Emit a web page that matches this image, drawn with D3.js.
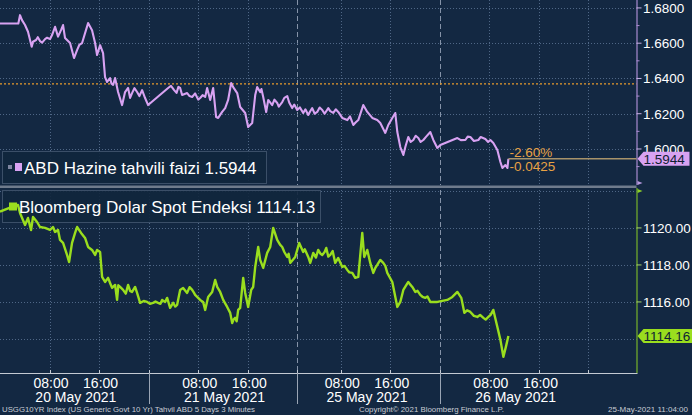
<!DOCTYPE html>
<html><head><meta charset="utf-8">
<script src="https://cdn.jsdelivr.net/npm/d3@7/dist/d3.min.js"></script>
<style>
body{margin:0;background:#132842;}
svg{display:block;font-family:"Liberation Sans",Arial,sans-serif;}
</style>
</head><body>
<svg id="chart" width="692" height="415"></svg>
<script>
// ---- DATA (time = trading hours since 20 May 00:00, value) ----
const yieldSeries = [
[0,1.6712],[2.96,1.6712],[3.23,1.6759],[3.55,1.6731],[4.04,1.6703],[4.52,1.6665],[5.12,1.6580],[5.33,1.6608],
[5.82,1.6618],[6.1,1.6634],[6.46,1.6612],[6.8,1.6603],[7.27,1.6623],[7.6,1.6631],[8.08,1.6623],[8.40,1.6646],[8.89,1.6693],[9.37,1.6637],[9.85,1.6674],
[10.18,1.6703],[10.50,1.6629],[11.31,1.6601],[11.95,1.6516],[12.44,1.6561],[12.8,1.6590],[13.25,1.6601],[14.22,1.6714],[14.86,1.6674],
[15.35,1.6601],[15.67,1.6533],[16.16,1.6589],[16.64,1.6544],[16.96,1.6408],[17.29,1.6380],[17.77,1.6402],[18.0,1.6370],[18.26,1.6363],
[18.58,1.6402],[19.06,1.6323],[19.71,1.6249],[20.19,1.6323],[20.68,1.6346],[21.0,1.6290],[21.32,1.6317],[21.7,1.6345],[22.13,1.6323],[22.5,1.6300],[22.94,1.6334],
[23.42,1.6289],[23.91,1.6249],[27.14,1.6346],[27.6,1.6358],[28.11,1.6334],[28.5,1.6318],[28.8,1.6352],[29.08,1.6346],[29.40,1.6306],[30.21,1.6317],[30.6,1.6300],[31.02,1.6295],
[31.5,1.6315],[32.0,1.6280],[32.31,1.6289],[32.7,1.6305],[33.12,1.6295],[33.44,1.6346],[33.93,1.6278],[34.41,1.6346],[34.89,1.6181],[35.22,1.6176],[35.86,1.6210],
[36.35,1.6232],[36.83,1.6278],[37.32,1.6374],[37.64,1.6351],[38.29,1.6317],[38.77,1.6238],[39.58,1.6204],[40.06,1.6125],
[40.71,1.6147],[41.20,1.6306],[41.52,1.6351],[42.00,1.6323],[42.2,1.6340],[42.49,1.6295],[42.97,1.6210],[43.30,1.6278],[43.94,1.6249],[44.3,1.6280],
[44.75,1.6261],[45.0,1.6240],[45.56,1.6266],[45.9,1.6290],[46.37,1.6300],[46.7,1.6262],[47.17,1.6232],[47.5,1.6252],[47.98,1.6221],[48.4,1.6236],[48.95,1.6204],
[49.3,1.6225],[49.76,1.6193],[50.1,1.6215],[50.40,1.6232],[50.8,1.6200],[51.21,1.6210],[51.6,1.6235],[52.02,1.6221],[52.4,1.6200],[53.0,1.6232],[53.31,1.6215],
[53.8,1.6205],[54.2,1.6225],[54.60,1.6210],[55.25,1.6176],[56.06,1.6164],[56.5,1.6185],[57.03,1.6136],[57.4,1.6150],[57.84,1.6164],
[58.64,1.6249],[59.29,1.6210],[60.10,1.6176],[60.90,1.6164],[61.39,1.6147],[62.20,1.6091],[62.68,1.6136],[63.33,1.6176],
[63.81,1.6204],[64.14,1.6096],[64.62,1.6011],[65.11,1.5966],[65.43,1.6011],[65.91,1.6068],[66.3,1.6040],[66.72,1.6051],[67.1,1.6075],[67.53,1.6062],
[67.9,1.6040],[68.34,1.6051],[68.8,1.6070],[69.47,1.6096],[69.95,1.6051],[70.60,1.6006],[71.08,1.6023],[73.83,1.6062],[74.4,1.6050],[75.12,1.6051],[75.5,1.6070],[75.93,1.6068],
[76.5,1.6045],[77.22,1.6051],[77.6,1.6068],[78.35,1.6057],[78.8,1.6040],[79.16,1.6051],[79.64,1.6034],[80.29,1.5994],[80.78,1.5926],[81.10,1.5892],[81.58,1.5909],
[81.91,1.5892],[82.07,1.5944]
];
const dollarSeries = [
[0,1120.88],[1.94,1121.14],[2.91,1121.24],[3.23,1120.81],[4.04,1120.16],[4.52,1120.54],[5.01,1119.89],[5.33,1120.59],
[5.98,1120.32],[6.46,1120.05],[7.27,1120.00],[8.08,1119.89],[8.56,1120.05],[8.89,1119.78],[9.37,1119.89],[9.69,1119.35],
[10.18,1119.19],[10.82,1118.54],[11.15,1118.16],[11.63,1119.19],[12.12,1119.73],[12.44,1120.05],[13.09,1119.73],[13.73,1119.46],
[14.22,1118.97],[14.86,1118.81],[15.35,1118.54],[15.67,1118.81],[16.16,1118.70],[16.48,1117.35],[16.96,1117.08],[17.45,1117.30],[17.8,1117.00],
[18.09,1116.76],[18.58,1116.92],[18.90,1116.11],[19.1,1116.90],[19.39,1116.81],[19.87,1116.65],[20.3,1116.45],[20.68,1116.92],[21.0,1116.60],[21.32,1116.54],[21.81,1116.81],
[22.13,1116.49],[22.62,1115.95],[23.2,1116.05],[23.75,1116.00],[24.2,1115.90],[24.72,1115.95],[25.1,1116.02],[25.53,1115.95],[25.9,1115.90],[26.17,1116.11],[26.66,1116.00],[26.98,1116.22],
[27.46,1115.68],[27.95,1115.95],[28.3,1115.75],[28.59,1115.84],[29.08,1116.65],[29.56,1116.76],[30.21,1116.49],[30.6,1116.80],[31.02,1116.65],[31.3,1116.50],[31.50,1116.38],
[32.31,1116.11],[32.79,1116.00],[33.12,1115.57],[33.60,1116.27],[34.25,1116.54],[34.73,1117.19],[35.06,1116.81],[35.54,1116.54],
[36.03,1116.11],[36.3,1115.95],[36.67,1115.73],[37.16,1115.41],[37.48,1114.86],[37.7,1115.05],[37.96,1115.14],[38.2,1114.95],[38.45,1115.57],[38.77,1115.68],[39.26,1117.30],
[39.58,1116.49],[40.06,1115.73],[40.55,1116.65],[40.87,1116.81],[41.20,1117.89],[41.68,1118.97],[42.00,1118.27],[42.49,1117.84],
[43.13,1118.65],[43.62,1118.97],[44.10,1120.00],[44.75,1119.35],[45.2,1119.10],[45.56,1118.97],[45.9,1118.70],[46.37,1118.43],[46.6,1118.60],[46.85,1118.11],[47.66,1118.43],
[48.30,1119.19],[48.95,1118.70],[49.2,1118.85],[49.76,1118.43],[50.08,1118.11],[50.57,1118.65],[51.0,1118.40],[51.37,1118.81],[51.7,1118.62],[52.02,1118.54],[52.4,1118.70],[52.67,1118.92],
[53.0,1118.45],[53.31,1118.54],[53.7,1118.75],[54.12,1118.11],[54.60,1118.38],[55.25,1117.89],[55.6,1117.95],[56.06,1117.73],[56.4,1117.60],[56.87,1117.57],[57.35,1117.30],[57.84,1117.35],
[58.48,1119.73],[58.80,1118.43],[59.29,1118.81],[59.77,1118.11],[60.26,1117.57],[60.6,1117.85],[60.90,1118.00],[61.39,1118.27],[61.87,1118.11],[62.2,1117.95],
[62.52,1117.57],[63.33,1117.08],[64.14,1115.73],[64.62,1116.00],[65.11,1116.65],[65.91,1117.08],[66.2,1116.95],[66.56,1116.81],[67.04,1116.54],[67.4,1116.60],
[67.85,1116.38],[68.2,1116.28],[68.66,1116.22],[69.0,1116.30],[69.47,1116.00],[70.60,1116.00],[72.21,1116.11],[73.02,1116.27],[73.83,1116.54],[74.47,1116.22],
[74.96,1115.41],[75.4,1115.55],[75.93,1115.46],[76.5,1115.25],[77.06,1115.19],[77.5,1115.30],[78.03,1115.14],[78.4,1115.05],[78.84,1115.19],[79.2,1115.30],[79.64,1115.57],[80.29,1114.65],[80.78,1113.95],
[81.26,1113.03],[81.74,1113.68],[82.07,1114.16]
];
const yieldMajorTicks = [1.60, 1.62, 1.64, 1.66, 1.68];
const yieldMinorTicks = [1.59, 1.61, 1.63, 1.65, 1.67];
const dollarGridTicks = [1114, 1116, 1118, 1120, 1122];
const dollarLabelTicks = [1116, 1118, 1120];
const timeTicks = [8, 16, 32, 40, 55, 63, 79, 87];
const timeTickLabels = ["08:00","16:00","08:00","16:00","08:00","16:00","08:00","16:00"];
const dayBoundaries = [24, 48, 71, 95];
const dashedBoundaries = [48, 71];
const dayLabelHours = [12, 36, 59, 83];
const dayLabels = ["20 May 2021", "21 May 2021", "25 May 2021", "26 May 2021"];
const yieldName = "ABD Hazine tahvili faizi";
const yieldLegendValue = 1.5944;
const dollarName = "Bloomberg Dolar Spot Endeksi";
const dollarLegendValue = 1114.13;
const yieldLast = 1.5944;
const dollarLast = 1114.16;
const yieldPrevClose = 1.6369;
const yieldChangePct = "-2.60%";
const yieldChange = "-0.0425";
const footerLeft = "USGG10YR Index (US Generic Govt 10 Yr) Tahvil ABD 5 Days 3 Minutes";
const footerMid = "Copyright\u00A9 2021 Bloomberg Finance L.P.";
const footerRight = "25-May-2021 11:04:00";

// ---- LAYOUT ----
const W = 692, H = 415;
const plotRight = 636.5;
const topPanel = {y0: 0, y1: 183};
const botPanel = {y0: 190, y1: 373};
const bg = "#132842";
const purple = "#d8a2f2";
const green = "#9ade1e";
const gridCol = "#4f6786";

const svg = d3.select("#chart");
svg.append("rect").attr("width", W).attr("height", H).attr("fill", bg);

const x = d3.scaleLinear().domain([0, 102.75]).range([0, plotRight]);
const yTop = d3.scaleLinear().domain([1.5807, 1.6845]).range([topPanel.y1, topPanel.y0]);
const yBot = d3.scaleLinear().domain([1112.16, 1122.05]).range([botPanel.y1, botPanel.y0]);

// vertical grid
const gridHours = [...timeTicks, ...dayBoundaries].sort((a,b)=>a-b);
const vg = svg.append("g");
[[topPanel.y0, topPanel.y1 + 2], [botPanel.y0, botPanel.y1]].forEach(([a,b]) => {
  vg.selectAll(null).data(gridHours).enter().append("line")
    .attr("x1", d => Math.round(x(d)) + 0.5).attr("x2", d => Math.round(x(d)) + 0.5)
    .attr("y1", a).attr("y2", b)
    .attr("stroke", d => dashedBoundaries.includes(d) ? "#8593a8" : gridCol)
    .attr("stroke-width", 1)
    .attr("stroke-dasharray", d => dashedBoundaries.includes(d) ? "5,3" : "1,2");
});

// horizontal grid
svg.append("g").selectAll("line").data(yieldMajorTicks).enter().append("line")
  .attr("x1", 0).attr("x2", plotRight)
  .attr("y1", d => Math.round(yTop(d)) + 0.5).attr("y2", d => Math.round(yTop(d)) + 0.5)
  .attr("stroke", gridCol).attr("stroke-dasharray", "1,2");
svg.append("g").selectAll("line").data(dollarGridTicks).enter().append("line")
  .attr("x1", 0).attr("x2", plotRight)
  .attr("y1", d => Math.round(yBot(d)) + 0.5).attr("y2", d => Math.round(yBot(d)) + 0.5)
  .attr("stroke", gridCol).attr("stroke-dasharray", "1,2");

// previous close dotted line
svg.append("line").attr("x1", 0).attr("x2", plotRight)
  .attr("y1", yTop(yieldPrevClose)).attr("y2", yTop(yieldPrevClose))
  .attr("stroke", "#e89a2c").attr("stroke-width", 1.2).attr("stroke-dasharray", "2,2");

// panel separator
svg.append("rect").attr("x", 0).attr("y", 185.5).attr("width", plotRight).attr("height", 2.5).attr("fill", "#6f7b8c");

// legend boxes
svg.append("rect").attr("x", 2.5).attr("y", 151.5).attr("width", 264).attr("height", 32)
  .attr("fill", "#11263d").attr("fill-opacity", 0.9).attr("stroke", "#3b4f68");
svg.append("rect").attr("x", 2.5).attr("y", 190.5).attr("width", 318).attr("height", 32)
  .attr("fill", "#11263d").attr("fill-opacity", 0.9).attr("stroke", "#3b4f68");

// lines
const lineTop = d3.line().x(d => x(d[0])).y(d => yTop(d[1]));
const lineBot = d3.line().x(d => x(d[0])).y(d => yBot(d[1]));
svg.append("path").datum(yieldSeries).attr("d", lineTop).attr("fill", "none")
  .attr("stroke", purple).attr("stroke-width", 2.1).attr("stroke-linejoin", "round");
svg.append("path").datum(dollarSeries).attr("d", lineBot).attr("fill", "none")
  .attr("stroke", green).attr("stroke-width", 2.4).attr("stroke-linejoin", "round");

// legend content
svg.append("rect").attr("x", 8).attr("y", 165).attr("width", 4).attr("height", 4).attr("fill", "#7f86a0");
svg.append("rect").attr("x", 15).attr("y", 163).attr("width", 7).attr("height", 8).attr("fill", purple);
svg.append("text").attr("x", 24).attr("y", 174).attr("fill", "#ffffff").attr("font-size", 17)
  .text(yieldName + " " + yieldLegendValue.toFixed(4));
svg.append("rect").attr("x", 9).attr("y", 202.5).attr("width", 8).attr("height", 8).attr("fill", green);
svg.append("text").attr("x", 19).attr("y", 213).attr("fill", "#ffffff").attr("font-size", 17)
  .text(dollarName + " " + dollarLegendValue.toFixed(2));

// right axes
svg.append("line").attr("x1", plotRight + 0.5).attr("x2", plotRight + 0.5).attr("y1", 0).attr("y2", 185)
  .attr("stroke", "#a98ad0").attr("stroke-width", 1.2);
svg.append("line").attr("x1", plotRight + 0.5).attr("x2", plotRight + 0.5).attr("y1", 188).attr("y2", botPanel.y1)
  .attr("stroke", "#78b22a").attr("stroke-width", 1.2);

const ta = svg.append("g");
ta.selectAll("line.maj").data(yieldMajorTicks).enter().append("line")
  .attr("x1", plotRight).attr("x2", plotRight + 5)
  .attr("y1", d => yTop(d)).attr("y2", d => yTop(d)).attr("stroke", "#c9b2e6");
ta.selectAll("line.min").data(yieldMinorTicks).enter().append("line")
  .attr("x1", plotRight).attr("x2", plotRight + 3)
  .attr("y1", d => yTop(d)).attr("y2", d => yTop(d)).attr("stroke", "#a98ad0");
ta.selectAll("text").data(yieldMajorTicks).enter().append("text")
  .attr("x", 643).attr("y", d => yTop(d) + 5).attr("fill", "#ffffff").attr("font-size", 13.5)
  .text(d => d.toFixed(4));

const ba = svg.append("g");
ba.selectAll("line").data(dollarLabelTicks).enter().append("line")
  .attr("x1", plotRight).attr("x2", plotRight + 5)
  .attr("y1", d => yBot(d)).attr("y2", d => yBot(d)).attr("stroke", "#a8d86a");
ba.selectAll("text").data(dollarLabelTicks).enter().append("text")
  .attr("x", 643).attr("y", d => yBot(d) + 5).attr("fill", "#ffffff").attr("font-size", 13.5)
  .text(d => d.toFixed(2));

// tiny axis end markers
svg.append("path").attr("d", `M${plotRight+1},181 L${plotRight+6},183 L${plotRight+1},185Z`).attr("fill", "#b89ae0");
svg.append("path").attr("d", `M${plotRight+1},189 L${plotRight+6},191 L${plotRight+1},193Z`).attr("fill", "#8ccf2a");

// last-value callouts
function callout(yv, fill, label, w) {
  const g = svg.append("g");
  const x0 = plotRight + 1, h = 14;
  g.append("path").attr("d",
    `M${x0},${yv} L${x0+6},${yv-h/2} L${x0+w},${yv-h/2} L${x0+w},${yv+h/2} L${x0+6},${yv+h/2}Z`)
    .attr("fill", fill);
  g.append("text").attr("x", x0 + 6).attr("y", yv + 5).attr("fill", "#0f1f33").attr("font-size", 13.5).text(label);
}
callout(yTop(yieldLast), purple, yieldLast.toFixed(4), 52);
callout(yBot(dollarLast), green, dollarLast.toFixed(2), 56);

// last value reference line + change labels
const lastPt = yieldSeries[yieldSeries.length - 1];
svg.append("line").attr("x1", x(lastPt[0])).attr("x2", plotRight)
  .attr("y1", yTop(yieldLast)).attr("y2", yTop(yieldLast))
  .attr("stroke", "#a8936a").attr("stroke-width", 1.5);
svg.append("text").attr("x", x(lastPt[0]) + 1).attr("y", yTop(yieldLast) - 2).attr("fill", "#e8a244")
  .attr("font-size", 13.5).text(yieldChangePct);
svg.append("text").attr("x", x(lastPt[0]) + 1).attr("y", yTop(yieldLast) + 12).attr("fill", "#e8a244")
  .attr("font-size", 13.5).text(yieldChange);

// bottom time axis
svg.append("line").attr("x1", 0).attr("x2", plotRight + 1).attr("y1", botPanel.y1 + 0.5).attr("y2", botPanel.y1 + 0.5)
  .attr("stroke", "#c4cad3").attr("stroke-width", 1.2);
svg.append("g").selectAll("line").data(gridHours).enter().append("line")
  .attr("x1", d => Math.round(x(d)) + 0.5).attr("x2", d => Math.round(x(d)) + 0.5)
  .attr("y1", botPanel.y1 - 3).attr("y2", botPanel.y1).attr("stroke", "#c4cad3");
svg.append("g").selectAll("line").data(dayBoundaries.slice(0, 3)).enter().append("line")
  .attr("x1", d => Math.round(x(d)) + 0.5).attr("x2", d => Math.round(x(d)) + 0.5)
  .attr("y1", botPanel.y1).attr("y2", 404).attr("stroke", "#9aa5b4");
svg.append("g").selectAll("text").data(timeTicks).enter().append("text")
  .attr("x", d => x(d) + 1.5).attr("y", 387.5).attr("text-anchor", "middle")
  .attr("fill", "#ffffff").attr("font-size", 14)
  .text((d, i) => timeTickLabels[i]);
svg.append("g").selectAll("text").data(dayLabelHours).enter().append("text")
  .attr("x", d => x(d) + 1.5).attr("y", 402).attr("text-anchor", "middle")
  .attr("fill", "#ffffff").attr("font-size", 14)
  .text((d, i) => dayLabels[i]);

// footer
svg.append("text").attr("x", 2).attr("y", 411.5).attr("fill", "#c8ccd4").attr("font-size", 8)
  .attr("textLength", 253).attr("lengthAdjust", "spacingAndGlyphs").text(footerLeft);
svg.append("text").attr("x", 359).attr("y", 411.5).attr("fill", "#c8ccd4").attr("font-size", 8)
  .attr("textLength", 145).attr("lengthAdjust", "spacingAndGlyphs").text(footerMid);
svg.append("text").attr("x", 608).attr("y", 411.5).attr("fill", "#c8ccd4").attr("font-size", 8)
  .attr("textLength", 80).attr("lengthAdjust", "spacingAndGlyphs").text(footerRight);
</script>
</body></html>
